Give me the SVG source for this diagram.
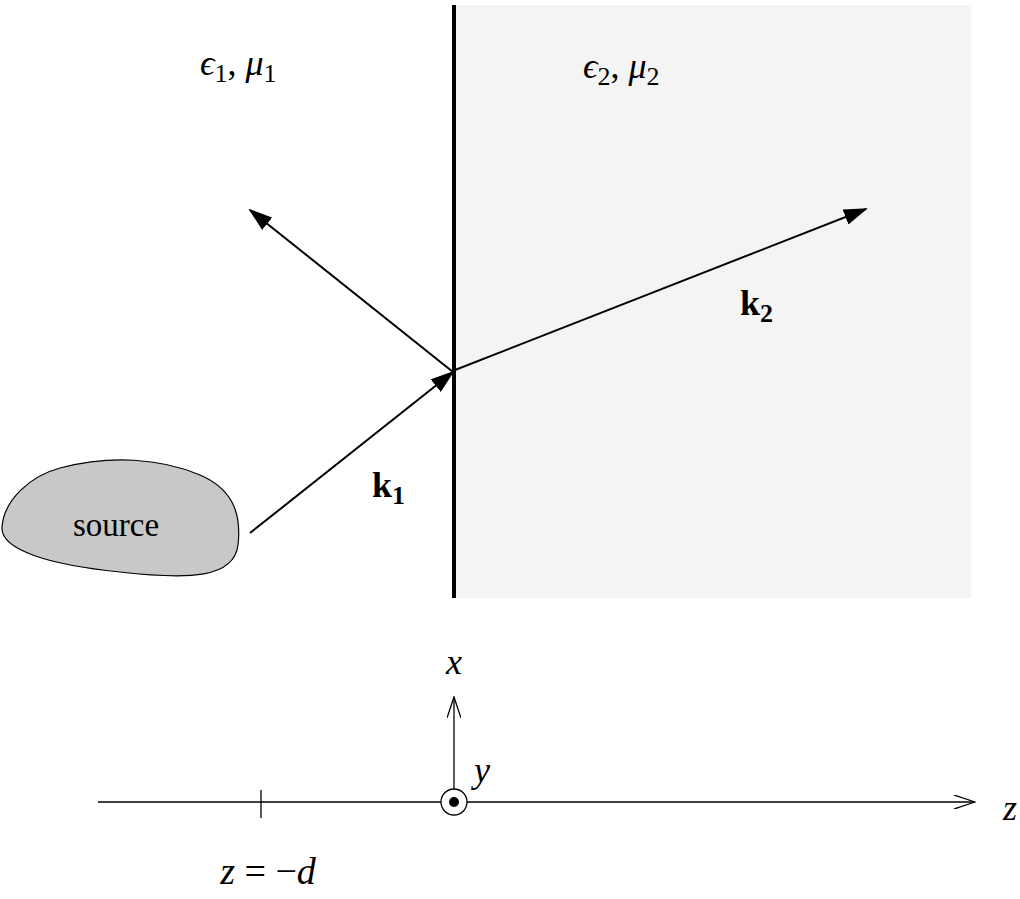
<svg xmlns="http://www.w3.org/2000/svg" width="1020" height="899" viewBox="0 0 1020 899">
<style>
text{font-family:"Liberation Serif","DejaVu Serif",serif;font-size:36px;fill:#000}
.m{font-style:italic}
.s{font-size:26px;font-style:normal}
.b{font-weight:bold;font-style:normal}
.ln{stroke:#000;stroke-width:2;fill:none}
.th{stroke:#000;stroke-width:1.3;fill:none}
</style>
<defs>
<marker id="ah" markerWidth="24" markerHeight="16" refX="22" refY="8" orient="auto" markerUnits="userSpaceOnUse" viewBox="0 0 24 16">
<path d="M0,0 L24,8 L0,16 z" fill="#000"/>
</marker>
<marker id="oh" markerWidth="22" markerHeight="14" refX="21" refY="7" orient="auto" markerUnits="userSpaceOnUse" viewBox="0 0 22 14">
<path d="M0,0 L21,7 L0,14" fill="none" stroke="#000" stroke-width="1.3"/>
</marker>
</defs>
<rect x="455" y="5" width="516" height="593" fill="#f4f4f4"/>
<line x1="454" y1="5" x2="454" y2="598" stroke="#000" stroke-width="4"/>
<text x="200" y="75" class="m">ϵ<tspan class="s" dy="7">1</tspan><tspan dy="-7" style="font-style:normal">,  </tspan>μ<tspan class="s" dy="7">1</tspan></text>
<text x="583" y="78" class="m">ϵ<tspan class="s" dy="7">2</tspan><tspan dy="-7" style="font-style:normal">,  </tspan>μ<tspan class="s" dy="7">2</tspan></text>
<path d="M60,468 C110,455 160,458 200,475 C230,488 242,510 238,545 C234,578 190,580 120,572 C50,565 0,550 2,527 C4,500 30,476 60,468 z" fill="#c8c8c8" stroke="#000" stroke-width="1.2"/>
<text x="116" y="536" text-anchor="middle" style="font-size:33px">source</text>
<g id="connectors">
<line x1="250" y1="533" x2="453" y2="372" class="ln" marker-end="url(#ah)"/>
<line x1="453" y1="372" x2="250" y2="210" class="ln" marker-end="url(#ah)"/>
<line x1="455" y1="370" x2="866" y2="209" class="ln" marker-end="url(#ah)"/>
</g>
<text x="372" y="497" class="b">k<tspan class="s" dy="7">1</tspan></text>
<text x="740" y="315" class="b">k<tspan class="s" dy="7">2</tspan></text>
<line x1="98" y1="802" x2="975" y2="802" class="th" marker-end="url(#oh)"/>
<line x1="261" y1="790" x2="261" y2="818" class="th"/>
<line x1="454" y1="789" x2="454" y2="697" class="th" marker-end="url(#oh)"/>
<circle cx="454" cy="802" r="13" fill="#fff" stroke="#000" stroke-width="1.3"/>
<circle cx="454" cy="802" r="5" fill="#000"/>
<text x="454" y="674" class="m" text-anchor="middle">x</text>
<text x="482" y="782" class="m" text-anchor="middle">y</text>
<text x="1010" y="820" class="m" text-anchor="middle">z</text>
<text x="268" y="884" text-anchor="middle" style="font-size:38px"><tspan class="m">z</tspan> = −<tspan class="m">d</tspan></text>
</svg>
